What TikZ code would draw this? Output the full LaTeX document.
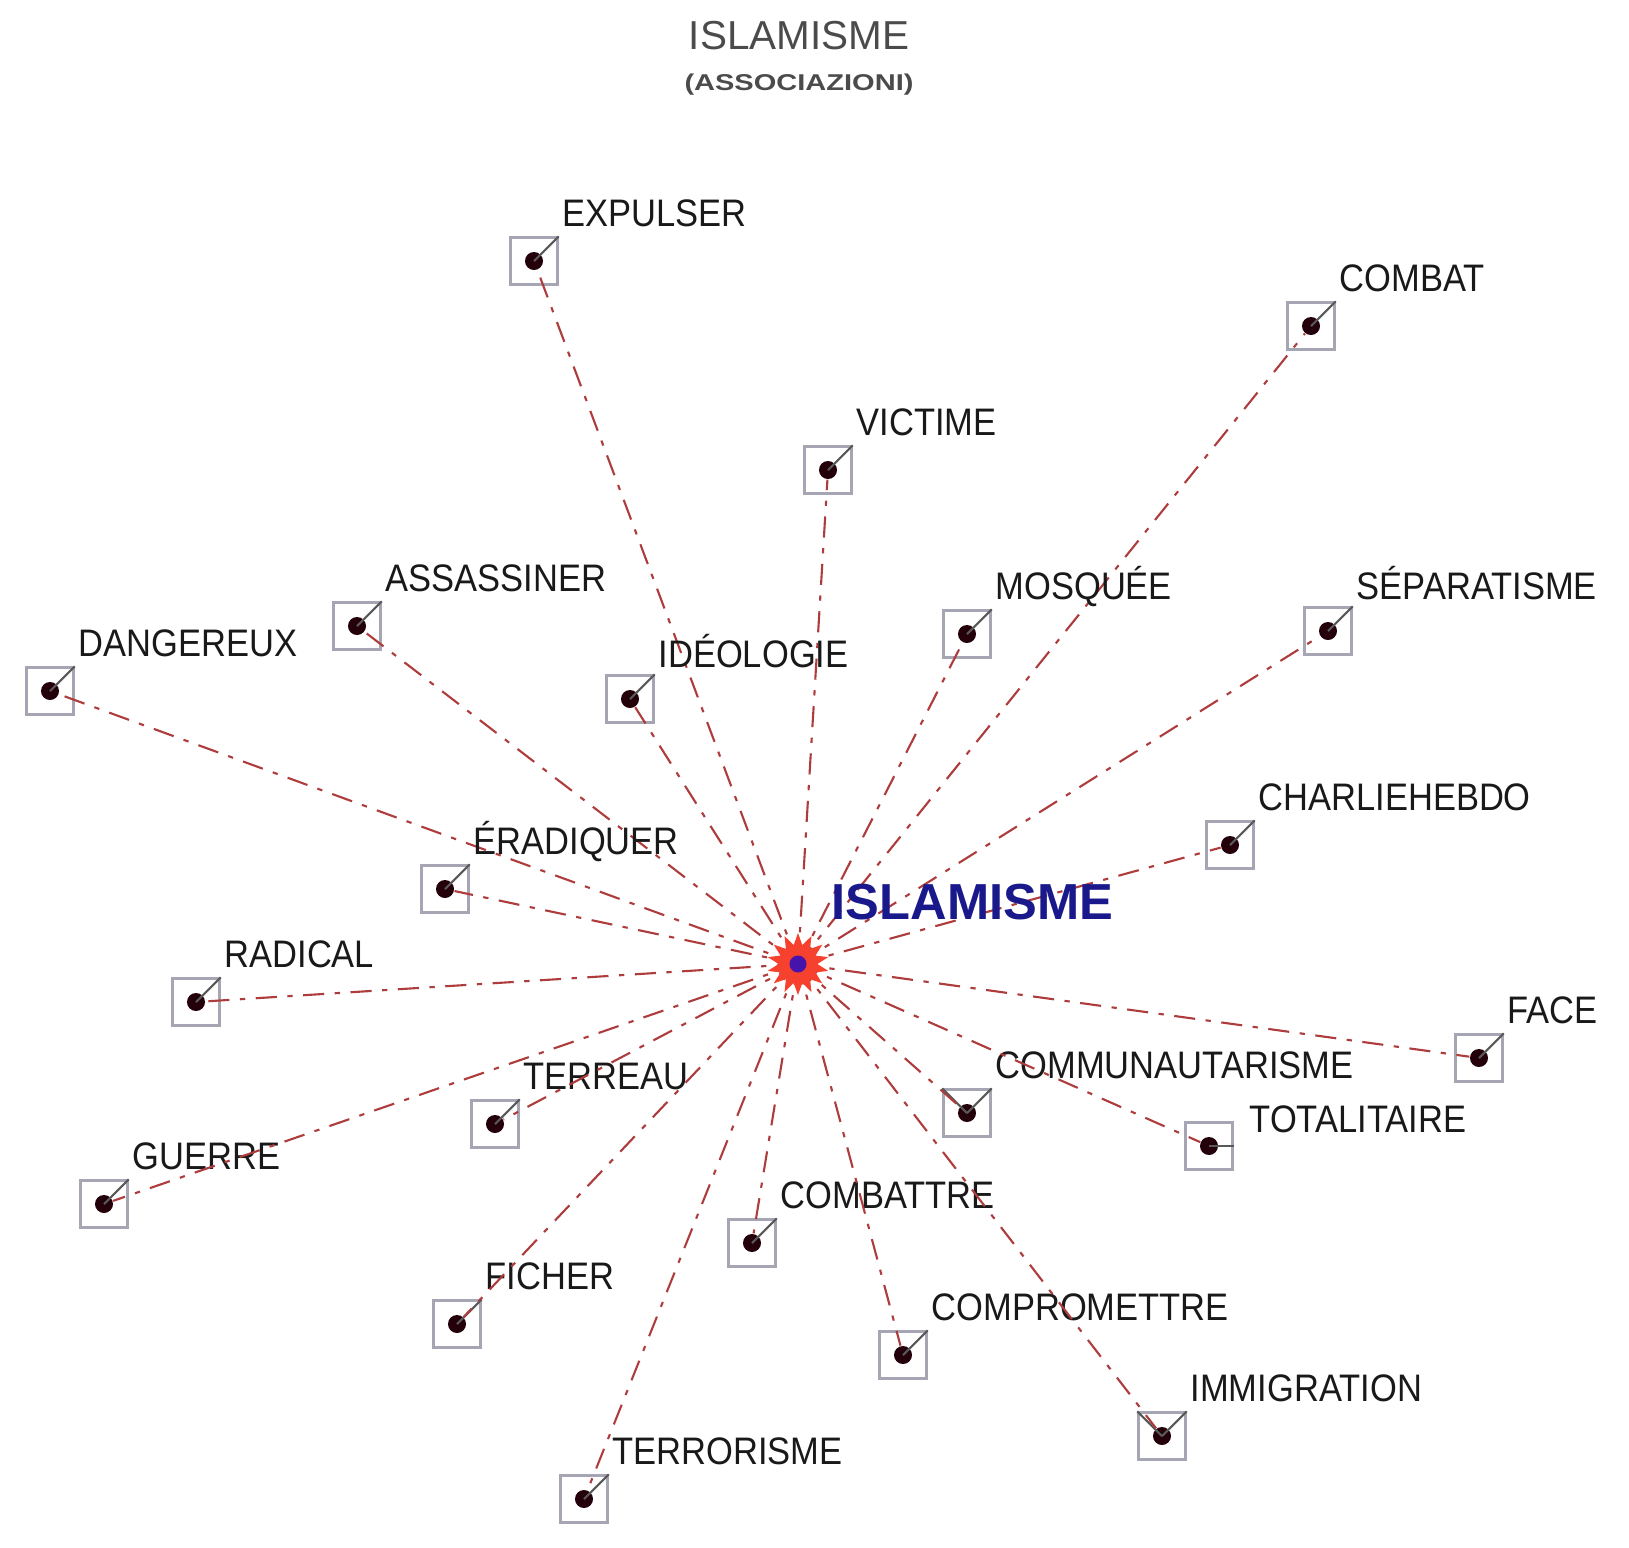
\documentclass[tikz,border=0pt]{standalone}
\usepackage{fontspec}
\setmainfont{Liberation Sans}
\usetikzlibrary{shapes.geometric}
\definecolor{edgered}{RGB}{175,60,60}
\definecolor{boxgray}{RGB}{165,165,180}
\definecolor{titlegray}{RGB}{75,75,75}
\definecolor{hubblue}{RGB}{25,25,140}
\definecolor{hubred}{RGB}{245,65,45}
\tikzset{
  edge/.style={edgered, line width=.6pt, dash pattern=on 6pt off 3pt on 1.5pt off 3pt},
  wbox/.style={draw=boxgray, line width=.7pt, fill=white, minimum size=.47cm, inner sep=0pt},
  wdot/.style={circle, fill={rgb,255:red,35;green,0;blue,10}, minimum size=.18cm, inner sep=0pt},
  tick/.style={gray!70!black, line width=.6pt},
  lbl/.style={anchor=west, inner sep=0pt, xscale=.9, text={rgb,255:red,25;green,25;blue,25},
    font=\fontsize{10.9}{12}\selectfont}
}
\begin{document}
\begin{tikzpicture}[x=.01cm, y=-.01cm]
  \useasboundingbox[fill=white] (0,0) rectangle (1629,1547);
  % title
  \node[titlegray, font=\fontsize{11.5}{13}\selectfont] (title) at (799,36) {ISLAMISME};
  \node[titlegray, xscale=1.27, font=\bfseries\fontsize{6.5}{8}\selectfont] (sub) at (799,85) {(ASSOCIAZIONI)};
  \coordinate (c) at (798,964);
  % words
  \foreach \n/\x/\y/\t/\k/\lx/\ly in {
      expulser/534/261/EXPULSER/{north east}/28/-48,
      combat/1311/326/COMBAT/{north east}/28/-48,
      victime/828/470/VICTIME/{north east}/28/-48,
      assassiner/357/626/ASSASSINER/{north east}/28/-48,
      dangereux/50/691/DANGEREUX/{north east}/28/-48,
      ideologie/630/699/IDÉOLOGIE/{north east}/28/-48,
      mosquee/967/634/MOSQUÉE/{north east}/28/-48,
      separatisme/1328/631/SÉPARATISME/{north east}/28/-48,
      charlie/1230/845/CHARLIEHEBDO/{north east}/28/-48,
      eradiquer/445/889/ÉRADIQUER/{north east}/28/-48,
      radical/196/1002/RADICAL/{north east}/28/-48,
      face/1479/1058/FACE/{north east}/28/-48,
      communaut/967/1113/COMMUNAUTARISME/{north west,north east}/28/-48,
      terreau/495/1124/TERREAU/{north east}/28/-48,
      totalitaire/1209/1146/TOTALITAIRE/{east}/40/-27,
      guerre/104/1204/GUERRE/{north east}/28/-48,
      combattre/752/1243/COMBATTRE/{north east}/28/-48,
      ficher/457/1324/FICHER/{north east}/28/-48,
      compromettre/903/1355/COMPROMETTRE/{north east}/28/-48,
      immigration/1162/1436/IMMIGRATION/{north west,north east}/28/-48,
      terrorisme/584/1499/TERRORISME/{north east}/28/-48} {
    \node[wbox] (\n b) at (\x,\y) {};
    \node[wdot] (\n) at (\x,\y) {};
    \foreach \a in \k
      \draw[tick] (\n.center) -- (\n b.\a);
    \node[lbl] (\n t) at (\x+\lx,\y+\ly) {\t};
    \draw[edge] (c) -- (\n);
  }
  % hub
  \node[star, star points=14, star point ratio=1.6, fill=hubred, minimum size=.62cm, inner sep=0pt] (hub) at (c) {};
  \node[circle, fill={rgb,255:red,70;green,20;blue,170}, minimum size=.17cm, inner sep=0pt] (hubdot) at (c) {};
  \node[anchor=west, inner sep=0pt, hubblue, font=\bfseries\fontsize{14.4}{16}\selectfont] (hubt) at (831,902) {ISLAMISME};
\end{tikzpicture}
\end{document}
